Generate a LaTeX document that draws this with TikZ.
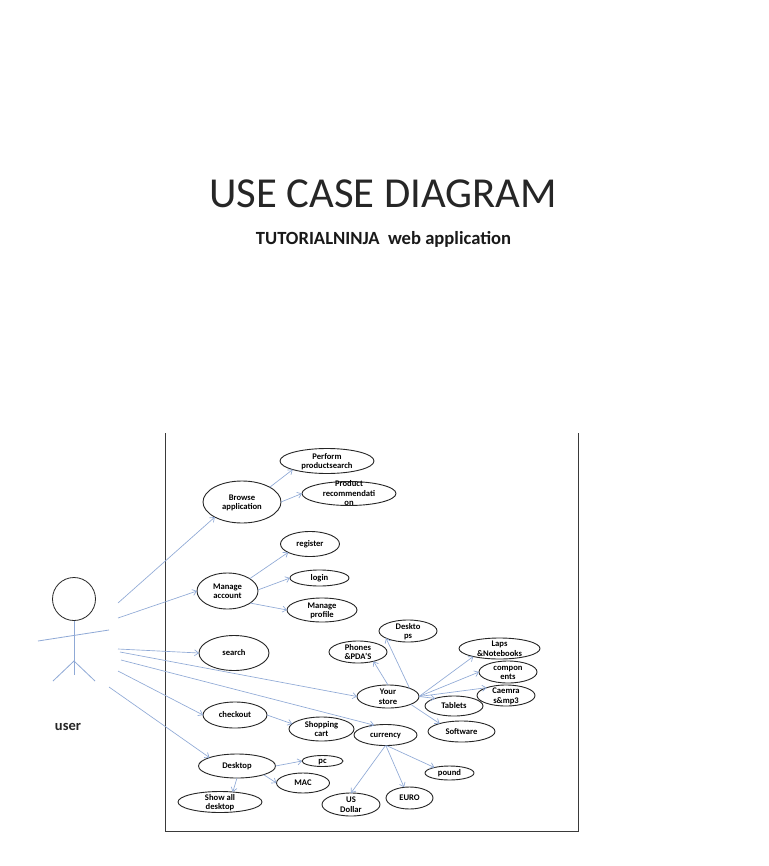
\documentclass[tikz,border=0pt]{standalone}
\usepackage{fontspec}
\setmainfont{Carlito}
\usetikzlibrary{shapes.geometric,arrows.meta}
\definecolor{linkblue}{HTML}{8FA9D6}
\definecolor{framegrey}{HTML}{3A3A3A}
\newcommand{\uctext}[1]{\smash{\makebox[0pt]{\raisebox{-3.2pt}{\fontsize{8.6}{10}\selectfont\bfseries\renewcommand{\arraystretch}{0.95}\begin{tabular}{@{}c@{}}#1\end{tabular}}}}}
\tikzset{
  usecase/.style={ellipse,draw=black!85,line width=0.9pt,inner sep=0pt,outer sep=0pt,fill=none},
  link/.style={draw=linkblue,line width=0.65pt,-{Straight Barb[length=4pt,width=6pt]}},
  bodyline/.style={draw=linkblue,line width=0.8pt},
  framing/.style={draw=framegrey,line width=1pt}
}
\newcommand{\uc}[6]{\node[usecase,minimum width=#4pt,minimum height=#5pt] (#1) at (#2,#3) {\uctext{#6}};}
\begin{document}
\begin{tikzpicture}[x=1pt,y=-1pt]
\useasboundingbox (0,0) rectangle (768,866);
\fill[white] (0,0) rectangle (768,866);
\node[font=\fontsize{42.7}{46}\selectfont,text=black!85] (title) at (383,194) {USE CASE DIAGRAM};
\node[font=\fontsize{18.6}{22}\selectfont\bfseries,text=black!90] (subtitle) at (383.5,239.5) {TUTORIALNINJA\ \ web application};
% system boundary
\draw[framing] (165,433) -- (165,831) -- (578,831) -- (578,433);
% actor
\node[circle,draw=black!85,line width=0.8pt,minimum size=43pt,inner sep=0pt,outer sep=0pt] (head) at (74,599) {};
\coordinate (hip) at (74,661);
\coordinate (foot) at (74,675);
\coordinate (armL) at (38,641);
\coordinate (armR) at (109,630);
\coordinate (legL) at (53,681);
\coordinate (legR) at (95,681);
\draw[bodyline] (head.south) -- (foot);
\draw[bodyline] (armL) -- (armR);
\draw[bodyline] (legL) -- (hip) -- (legR);
\node[font=\fontsize{14.5}{16}\selectfont\bfseries,text=black!85] (user) at (68,727) {user};
% use cases
\uc{perform}{327}{461}{94}{25}{Perform\\productsearch}
\uc{product}{349}{493.5}{94}{24}{Product\\recommendati\\on}
\uc{browse}{242}{502}{78}{42}{Browse\\application}
\uc{register}{310}{544}{59}{25}{register}
\uc{login}{319.5}{578}{59}{16}{login}
\uc{manage}{227.5}{591}{61}{36}{Manage\\account}
\uc{profile}{322}{610}{70}{24}{Manage\\profile}
\uc{search}{234}{653}{70}{35}{search}
\uc{checkout}{235}{715}{64}{26}{checkout}
\uc{cart}{321.5}{729}{65}{24}{Shopping\\cart}
\uc{desktop}{237}{766}{77}{24}{Desktop}
\uc{pc}{322.5}{761}{41}{11}{pc}
\uc{mac}{303}{783}{53}{20}{MAC}
\uc{showall}{220}{802}{84}{21}{Show all\\desktop}
\uc{currency}{385.5}{735}{63}{21}{currency}
\uc{store}{388}{696.5}{62}{23}{Your\\store}
\uc{tablets}{454}{706}{58}{20}{Tablets}
\uc{software}{461.5}{731.5}{67}{21}{Software}
\uc{camera}{506}{695.5}{58}{21}{Caemra\\s\&mp3}
\uc{components}{508}{672}{58}{22}{compon\\ents}
\uc{laps}{499.5}{648.5}{81}{21}{Laps\\\&Notebooks}
\uc{desktops}{408}{631}{58}{22}{Deskto\\ps}
\uc{phones}{358}{652}{58}{22}{Phones\\\&PDA'S}
\uc{pound}{449.5}{773}{49}{14}{pound}
\uc{euro}{409.5}{798}{47}{22}{EURO}
\uc{dollar}{351}{804.5}{58}{23}{US\\Dollar}
% free ends at the actor
\coordinate (u1) at (118,603);
\coordinate (u2) at (118,618);
\coordinate (u3) at (118,649);
\coordinate (u4) at (120,652);
\coordinate (u5) at (121,660);
\coordinate (u6) at (118,671);
\coordinate (u7) at (109,687);
\draw[link] (u1) -- (browse.209);
\draw[link] (u2) -- (manage.180);
\draw[link] (u3) -- (search.180);
\draw[link] (u4) -- (store.180);
\draw[link] (u5) -- (currency.139);
\draw[link] (u6) -- (checkout.180);
\draw[link] (u7) -- (desktop.163);
% include links
\draw[link] (browse.28) -- (perform.194);
\draw[link] (browse.0) -- (product.180);
\draw[link] (manage.29) -- (register.201);
\draw[link] (manage.2) -- (login.180);
\draw[link] (manage.-28) -- (profile.180);
\draw[link] (checkout.0) -- (cart.170);
\draw[link] (desktop.0) -- (pc.180);
\draw[link] (desktop.-18) -- (mac.180);
\draw[link] (desktop.-90) -- (showall.38);
\draw[link] (store.90) -- (phones.-31);
\draw[link] (store.21) -- (desktops.198);
\draw[link] (store.0) -- (laps.197);
\draw[link] (store.0) -- (components.180);
\draw[link] (store.0) -- (camera.158);
\draw[link] (store.0) -- (tablets.158);
\draw[link] (store.-19) -- (software.160);
\draw[link] (currency.-90) -- (dollar.90);
\draw[link] (currency.-88) -- (euro.117);
\draw[link] (currency.-85) -- (pound.160);
\end{tikzpicture}
\end{document}
